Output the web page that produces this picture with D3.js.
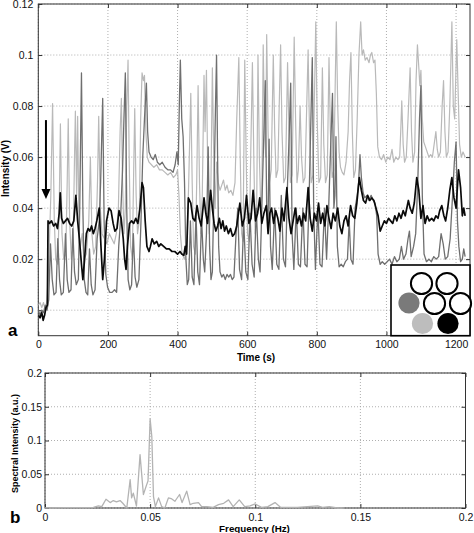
<!DOCTYPE html>
<html>
<head>
<meta charset="utf-8">
<script src="https://cdn.jsdelivr.net/npm/d3@7"></script>
<style>
body { margin: 0; background: #fff; }
svg { display: block; font-family: "Liberation Sans", Arial, sans-serif; }
</style>
</head>
<body>
<div class="chart"></div>
<script>
// ---- data: [time (s), intensity (V)] ----
var lightSeries = [
[0,0.002],[5,0.003],[10,0.001],[15,0.003],[20,0.0],[25,0.004],[30,0.018],[36,0.045],[41,0.081],[46,0.035],[50,0.02],[56,0.018],[60,0.04],[63.5,0.073],[68,0.03],[73,0.02],[79,0.022],[83,0.05],[86,0.075],[90,0.035],[95,0.02],[100,0.025],[104,0.06],[106.5,0.078],[110,0.045],[113,0.076],[117,0.03],[121,0.025],[126,0.03],[131,0.02],[138,0.022],[145,0.035],[149.6,0.06],[154,0.03],[159,0.022],[165,0.025],[170,0.05],[173.5,0.076],[178,0.04],[183,0.03],[190,0.028],[197,0.026],[204,0.03],[211,0.028],[218,0.026],[224,0.03],[230,0.04],[235,0.07],[238.6,0.083],[242,0.05],[246,0.03],[250,0.04],[254,0.08],[257.8,0.098],[261,0.06],[265,0.025],[270,0.02],[274,0.055],[277,0.079],[281,0.045],[285,0.03],[290,0.035],[294,0.075],[298,0.093],[302,0.09],[305,0.092],[309,0.07],[313,0.06],[318,0.058],[325,0.057],[332,0.056],[340,0.057],[348,0.055],[356,0.055],[364,0.054],[372,0.053],[380,0.054],[388,0.052],[395,0.053],[400,0.055],[404,0.045],[408,0.03],[413,0.022],[420,0.02],[427,0.025],[432,0.05],[438,0.085],[442,0.05],[446,0.025],[451,0.022],[455,0.05],[459,0.088],[463,0.05],[467,0.03],[471,0.045],[476,0.092],[479,0.07],[483,0.094],[487,0.05],[491,0.03],[495,0.04],[500,0.095],[504,0.06],[508,0.04],[512,0.058],[517,0.05],[522,0.047],[527,0.049],[532,0.051],[537,0.047],[542,0.049],[547,0.046],[553,0.047],[559,0.045],[565,0.05],[570,0.075],[576,0.099],[580,0.06],[584,0.03],[588,0.027],[593,0.098],[597,0.06],[601,0.03],[606,0.027],[610,0.06],[615,0.097],[619,0.06],[623,0.03],[627,0.035],[631,0.1],[635,0.06],[639,0.04],[642,0.045],[646,0.104],[650,0.07],[653,0.06],[656,0.108],[660,0.07],[664,0.05],[669,0.055],[675,0.1],[679,0.07],[683,0.052],[688,0.055],[692,0.08],[696,0.104],[700,0.07],[705,0.05],[710,0.052],[716,0.097],[720,0.07],[724,0.05],[729,0.053],[735,0.107],[739,0.075],[743,0.05],[747,0.055],[752,0.08],[756,0.06],[761,0.05],[766,0.052],[771,0.08],[775,0.102],[779,0.07],[784,0.05],[789,0.053],[794,0.09],[797,0.113],[801,0.075],[806,0.05],[811,0.052],[816,0.095],[820,0.065],[825,0.05],[830,0.053],[835,0.099],[839,0.07],[844,0.052],[849,0.055],[853,0.09],[856,0.113],[860,0.08],[864,0.062],[868,0.056],[873,0.054],[878,0.053],[884,0.058],[890,0.07],[894,0.09],[898,0.101],[902,0.07],[906,0.052],[911,0.055],[916,0.075],[921,0.1],[926,0.113],[930,0.1],[934,0.102],[939,0.098],[944,0.099],[950,0.097],[954,0.1],[958,0.101],[963,0.097],[967,0.098],[971,0.085],[975,0.064],[980,0.06],[986,0.059],[992,0.061],[998,0.058],[1004,0.06],[1010,0.059],[1016,0.063],[1021,0.058],[1027,0.06],[1033,0.059],[1038,0.06],[1041,0.07],[1044,0.082],[1048,0.065],[1052,0.058],[1057,0.06],[1062,0.075],[1068,0.095],[1072,0.07],[1076,0.058],[1081,0.062],[1085,0.09],[1089,0.104],[1093,0.095],[1096,0.088],[1099,0.094],[1103,0.075],[1107,0.066],[1112,0.064],[1117,0.062],[1122,0.06],[1127,0.061],[1132,0.06],[1137,0.065],[1142,0.07],[1146,0.063],[1150,0.06],[1155,0.062],[1160,0.08],[1164,0.09],[1168,0.07],[1172,0.06],[1177,0.062],[1182,0.08],[1188,0.113],[1192,0.08],[1196,0.075],[1202,0.106],[1206,0.085],[1210,0.065],[1215,0.06],[1220,0.062],[1226,0.06]
];

var graySeries = [
[0,0.0],[5,-0.002],[10,0.0],[15,-0.001],[20,0.002],[25,0.0],[30,0.004],[35,0.026],[40,0.012],[45,0.006],[51,0.007],[56,0.028],[61,0.012],[66,0.006],[72,0.007],[78,0.03],[83,0.012],[88,0.007],[94,0.008],[99,0.032],[104,0.015],[109,0.01],[115,0.012],[119,0.04],[124,0.093],[128,0.04],[132,0.012],[137,0.007],[142,0.006],[147,0.024],[152,0.01],[157,0.006],[163,0.008],[169,0.028],[175,0.035],[179,0.05],[185,0.083],[189,0.035],[194,0.014],[199,0.009],[205,0.007],[212,0.007],[219,0.008],[225,0.007],[231,0.025],[236,0.035],[242,0.055],[246,0.075],[250,0.093],[254,0.04],[258,0.012],[263,0.008],[268,0.01],[273,0.03],[278,0.013],[283,0.009],[289,0.012],[295,0.035],[300,0.06],[305,0.075],[310.5,0.089],[314,0.07],[318,0.062],[324,0.06],[330,0.059],[336,0.061],[342,0.058],[349,0.057],[356,0.058],[364,0.056],[372,0.055],[380,0.055],[387,0.054],[393,0.057],[398,0.062],[402,0.057],[405,0.08],[408,0.098],[412,0.075],[416,0.068],[420,0.05],[424,0.02],[428,0.01],[432,0.012],[437,0.035],[442,0.013],[447,0.01],[453,0.038],[458,0.015],[463,0.01],[469,0.036],[474,0.02],[478,0.015],[483,0.03],[488,0.064],[492,0.025],[496,0.012],[500,0.015],[505,0.05],[509,0.08],[512,0.1],[515,0.06],[518,0.025],[522,0.015],[527,0.013],[532,0.014],[537,0.012],[542,0.014],[547,0.013],[552,0.014],[557,0.012],[562,0.013],[568,0.03],[573,0.04],[578,0.016],[584,0.012],[590,0.035],[596,0.015],[602,0.012],[608,0.038],[614,0.018],[620,0.013],[626,0.04],[632,0.02],[637,0.015],[643,0.045],[648,0.07],[652,0.09],[656,0.04],[660,0.035],[663,0.067],[667,0.025],[672,0.016],[679,0.04],[685,0.018],[691,0.016],[698,0.045],[704,0.02],[710,0.017],[716,0.05],[721,0.07],[725,0.089],[729,0.03],[734,0.016],[741,0.04],[747,0.018],[753,0.017],[760,0.04],[766,0.018],[772,0.017],[778,0.045],[783,0.075],[787,0.099],[791,0.04],[796,0.016],[803,0.04],[809,0.018],[815,0.017],[822,0.04],[828,0.02],[834,0.04],[840,0.065],[845,0.085],[849,0.04],[852,0.045],[855,0.068],[859,0.025],[864,0.017],[870,0.018],[876,0.017],[882,0.019],[888,0.02],[893,0.035],[898,0.02],[904,0.018],[910,0.04],[916,0.045],[920,0.05],[924,0.061],[928,0.052],[933,0.046],[938,0.044],[944,0.045],[950,0.043],[956,0.045],[962,0.043],[967,0.042],[972,0.037],[976,0.022],[982,0.018],[988,0.019],[995,0.018],[1002,0.019],[1009,0.02],[1016,0.018],[1023,0.021],[1030,0.019],[1037,0.02],[1043,0.025],[1049,0.02],[1056,0.022],[1062,0.028],[1066,0.031],[1071,0.021],[1078,0.025],[1084,0.03],[1090,0.05],[1095,0.075],[1099,0.088],[1103,0.045],[1108,0.022],[1115,0.019],[1122,0.02],[1129,0.019],[1136,0.021],[1143,0.02],[1150,0.021],[1157,0.03],[1163,0.026],[1169,0.02],[1176,0.021],[1183,0.028],[1190,0.045],[1195,0.058],[1200,0.066],[1204,0.035],[1208,0.025],[1213,0.019],[1218,0.02],[1222,0.024],[1226,0.021]
];

var blackSeries = [
[0,-0.002],[5,-0.003],[10,-0.001],[14,-0.004],[18,-0.002],[22,0.001],[26,0.002],[28,0.035],[32,0.034],[38,0.035],[44,0.033],[50,0.034],[55,0.032],[60,0.038],[63,0.046],[67,0.036],[72,0.034],[78,0.035],[84,0.036],[90,0.034],[96,0.033],[102,0.035],[108,0.045],[113,0.035],[118,0.028],[124,0.018],[128,0.012],[133,0.02],[138,0.03],[143,0.032],[148,0.031],[153,0.033],[158,0.03],[163,0.032],[168,0.035],[175,0.04],[180,0.025],[185,0.012],[190,0.02],[196,0.035],[203,0.04],[209,0.039],[215,0.034],[220,0.031],[226,0.032],[232,0.039],[238,0.036],[244,0.028],[248,0.02],[252,0.016],[256,0.025],[262,0.034],[268,0.035],[274,0.034],[280,0.036],[286,0.034],[292,0.04],[298,0.05],[302,0.048],[307,0.035],[312,0.025],[318,0.023],[322,0.025],[327,0.028],[333,0.026],[340,0.027],[346,0.025],[352,0.026],[360,0.025],[368,0.024],[376,0.024],[384,0.023],[392,0.023],[400,0.022],[407,0.023],[412,0.022],[418,0.0215],[422,0.025],[426,0.022],[431,0.044],[438,0.042],[444,0.036],[450,0.035],[456,0.041],[462,0.036],[468,0.033],[476,0.044],[481,0.038],[486,0.034],[495,0.047],[500,0.04],[505,0.034],[510,0.031],[515,0.033],[520,0.036],[525,0.032],[530,0.035],[535,0.031],[540,0.033],[546,0.03],[552,0.032],[558,0.029],[564,0.03],[570,0.033],[579,0.042],[586,0.033],[592,0.036],[598,0.045],[605,0.034],[611,0.036],[617,0.047],[624,0.035],[630,0.038],[636,0.044],[642,0.034],[648,0.038],[655,0.041],[660,0.03],[665,0.038],[670,0.04],[676,0.034],[682,0.039],[688,0.036],[694,0.031],[700,0.04],[706,0.035],[714,0.048],[720,0.036],[726,0.03],[732,0.035],[738,0.04],[744,0.034],[750,0.037],[756,0.033],[762,0.038],[768,0.035],[775,0.048],[781,0.036],[787,0.031],[793,0.038],[799,0.035],[805,0.042],[811,0.034],[817,0.038],[823,0.033],[829,0.041],[835,0.036],[841,0.032],[847,0.038],[853,0.035],[860,0.04],[866,0.033],[872,0.03],[878,0.035],[884,0.037],[890,0.033],[897,0.041],[903,0.037],[909,0.036],[915,0.042],[922,0.052],[928,0.047],[934,0.043],[940,0.042],[946,0.045],[952,0.043],[958,0.044],[964,0.043],[970,0.04],[976,0.037],[982,0.031],[988,0.033],[994,0.035],[1000,0.034],[1006,0.036],[1012,0.035],[1018,0.034],[1024,0.037],[1030,0.035],[1036,0.038],[1042,0.036],[1048,0.039],[1054,0.037],[1063,0.043],[1068,0.04],[1074,0.038],[1080,0.042],[1087,0.052],[1093,0.047],[1099,0.036],[1105,0.041],[1111,0.034],[1117,0.037],[1123,0.035],[1130,0.036],[1136,0.035],[1142,0.037],[1148,0.036],[1153,0.039],[1159,0.041],[1165,0.037],[1170,0.035],[1176,0.04],[1182,0.047],[1188,0.052],[1194,0.044],[1200,0.04],[1207,0.055],[1213,0.048],[1218,0.037],[1222,0.04],[1226,0.037]
];

// spectrum: [frequency (Hz), spectral intensity (a.u.)]
var spectrum = [
[0,0],[0.01,0.0005],[0.02,0.0005],[0.023,0.001],[0.0254,0.003],[0.027,0.002],[0.029,0.013],[0.031,0.008],[0.0325,0.011],[0.034,0.009],[0.0357,0.011],[0.037,0.007],[0.0389,0.0],[0.0405,0.042],[0.0412,0.015],[0.042,0.022],[0.0435,0.003],[0.0452,0.079],[0.0468,0.02],[0.0484,0.035],[0.049,0.04],[0.05,0.132],[0.0508,0.106],[0.0516,0.017],[0.0525,0.002],[0.054,0.015],[0.0555,0.002],[0.057,0.0],[0.0587,0.015],[0.06,0.014],[0.0618,0.01],[0.064,0.02],[0.0652,0.008],[0.0674,0.025],[0.069,0.005],[0.0705,0.007],[0.073,0.008],[0.0745,0.002],[0.077,0.002],[0.08,0.001],[0.0825,0.005],[0.085,0.007],[0.0873,0.012],[0.0895,0.002],[0.0924,0.012],[0.095,0.002],[0.0975,0.003],[0.1,0.006],[0.103,0.001],[0.106,0.002],[0.1094,0.008],[0.112,0.001],[0.12,0.001],[0.1297,0.003],[0.132,0.001],[0.1352,0.002],[0.139,0.0],[0.142,0]
];

var timeTicks = [0, 200, 400, 600, 800, 1000, 1200];
var intensityTicks = [0, 0.02, 0.04, 0.06, 0.08, 0.1, 0.12];
var freqTicks = [0, 0.05, 0.1, 0.15, 0.2];
var specTicks = [0, 0.05, 0.1, 0.15, 0.2];

// legend inset: fill of each electrode circle (null = open)
var legendFills = [null, null, "#7a7a7a", null, null, "#bdbdbd", "#000"];

var width = 474, height = 533;

var svg = d3.select(".chart").append("svg")
    .attr("width", width)
    .attr("height", height);

var fmt = function(d){ return String(+d.toFixed(3)); };

// draws box, dotted grid and inward ticks, like matlab
function frame(g, x, y, xt, yt, pads) {
  var x0 = x.range()[0], x1 = x.range()[1], y0 = y.range()[1], y1 = y.range()[0];

  g.append("g").attr("class", "grid")
    .selectAll("line.gx").data(xt).enter().append("line")
    .attr("x1", function(d){ return x(d); }).attr("x2", function(d){ return x(d); })
    .attr("y1", y0).attr("y2", y1);
  g.select(".grid").selectAll("line.gy").data(yt).enter().append("line")
    .attr("x1", x0).attr("x2", x1)
    .attr("y1", function(d){ return y(d); }).attr("y2", function(d){ return y(d); });
  g.selectAll(".grid line")
    .attr("stroke", "#9a9a9a").attr("stroke-width", 0.8).attr("stroke-dasharray", "1,2");

  var bottom = g.append("g").attr("transform", "translate(0," + y1 + ")")
    .call(d3.axisBottom(x).tickValues(xt).tickFormat(fmt).tickSize(-4).tickPadding(pads[0]));
  var left = g.append("g").attr("transform", "translate(" + x0 + ",0)")
    .call(d3.axisLeft(y).tickValues(yt).tickFormat(fmt).tickSize(-4).tickPadding(pads[1]));
  var top = g.append("g").attr("transform", "translate(0," + y0 + ")")
    .call(d3.axisTop(x).tickValues(xt).tickFormat("").tickSize(-4));
  var right = g.append("g").attr("transform", "translate(" + x1 + ",0)")
    .call(d3.axisRight(y).tickValues(yt).tickFormat("").tickSize(-4));
  [bottom, left, top, right].forEach(function(a){
    a.select(".domain").remove();
    a.selectAll("line").attr("stroke", "#333");
    a.selectAll("text").attr("fill", "#111").style("font-size", "10.5px");
  });

  g.append("rect")
    .attr("x", x0).attr("y", y0)
    .attr("width", x1 - x0).attr("height", y1 - y0)
    .attr("fill", "none").attr("stroke", "#333").attr("stroke-width", 1);
}

// ---------------- panel a ----------------
var xTime = d3.scaleLinear().domain([0, 1240]).range([38.3, 470]);
var yInt = d3.scaleLinear().domain([-0.01, 0.12]).range([335.7, 4]);

var ga = svg.append("g");
frame(ga, xTime, yInt, timeTicks, intensityTicks, [5, 5]);

svg.append("clipPath").attr("id", "clipA").append("rect")
  .attr("x", 38.3).attr("y", 4).attr("width", 470 - 38.3).attr("height", 335.7 - 4);

var lineA = d3.line()
  .x(function(d){ return xTime(d[0]); })
  .y(function(d){ return yInt(d[1]); });

var traces = [
  {data: lightSeries, color: "#b9b9b9", w: 1.2},
  {data: graySeries, color: "#6f6f6f", w: 1.3},
  {data: blackSeries, color: "#0a0a0a", w: 1.7}
];
ga.append("g").attr("clip-path", "url(#clipA)")
  .selectAll("path").data(traces).enter().append("path")
  .attr("d", function(d){ return lineA(d.data); })
  .attr("fill", "none")
  .attr("stroke", function(d){ return d.color; })
  .attr("stroke-width", function(d){ return d.w; })
  .attr("stroke-linejoin", "round");

// stimulus arrow
var ax = xTime(22);
ga.append("line")
  .attr("x1", ax).attr("x2", ax)
  .attr("y1", yInt(0.0745)).attr("y2", yInt(0.047))
  .attr("stroke", "#000").attr("stroke-width", 2);
ga.append("path")
  .attr("d", "M" + (ax - 4.5) + "," + yInt(0.0475) + "L" + (ax + 4.5) + "," + yInt(0.0475) + "L" + ax + "," + yInt(0.0436) + "Z")
  .attr("fill", "#000");

// electrode inset
var inset = ga.append("g").attr("transform", "translate(391,265)");
inset.append("rect")
  .attr("width", 79).attr("height", 70.7)
  .attr("fill", "#fff").attr("stroke", "#000").attr("stroke-width", 1.6);
var hexPos = [[30.5,18.5],[56,18.5],[18,38],[43.5,38.5],[69.5,38.5],[31.5,58.5],[57,58.5]];
inset.selectAll("circle").data(legendFills).enter().append("circle")
  .attr("cx", function(d, i){ return hexPos[i][0]; })
  .attr("cy", function(d, i){ return hexPos[i][1]; })
  .attr("r", 10.6)
  .attr("fill", function(d){ return d || "#fff"; })
  .attr("stroke", function(d){ return d ? "none" : "#000"; })
  .attr("stroke-width", 2);

ga.append("text")
  .attr("x", 256).attr("y", 361)
  .attr("text-anchor", "middle")
  .style("font-size", "10px").style("font-weight", "bold")
  .text("Time (s)");
ga.append("text")
  .attr("transform", "translate(9,168.5) rotate(-90)")
  .attr("text-anchor", "middle")
  .style("font-size", "10px").style("font-weight", "bold")
  .text("Intensity (V)");
ga.append("text")
  .attr("x", 8).attr("y", 336)
  .style("font-size", "17px").style("font-weight", "bold")
  .text("a");

// ---------------- panel b ----------------
var xFreq = d3.scaleLinear().domain([0, 0.2]).range([45, 465.5]);
var ySpec = d3.scaleLinear().domain([0, 0.2]).range([508, 373]);

var gb = svg.append("g");
frame(gb, xFreq, ySpec, freqTicks, specTicks, [6, 3]);

var lineB = d3.line()
  .x(function(d){ return xFreq(d[0]); })
  .y(function(d){ return ySpec(d[1]); });

gb.append("path")
  .attr("d", lineB(spectrum))
  .attr("fill", "none")
  .attr("stroke", "#b3b3b3")
  .attr("stroke-width", 1.3)
  .attr("stroke-linejoin", "round");

gb.append("text")
  .attr("x", 254.5).attr("y", 531.5)
  .attr("text-anchor", "middle")
  .style("font-size", "9.8px").style("font-weight", "bold")
  .text("Frequency (Hz)");
gb.append("text")
  .attr("transform", "translate(18,443.5) rotate(-90)")
  .attr("text-anchor", "middle")
  .style("font-size", "9px").style("font-weight", "bold")
  .text("Spectral Intensity (a.u.)");
gb.append("text")
  .attr("x", 10).attr("y", 523)
  .style("font-size", "17px").style("font-weight", "bold")
  .text("b");
</script>
</body>
</html>
